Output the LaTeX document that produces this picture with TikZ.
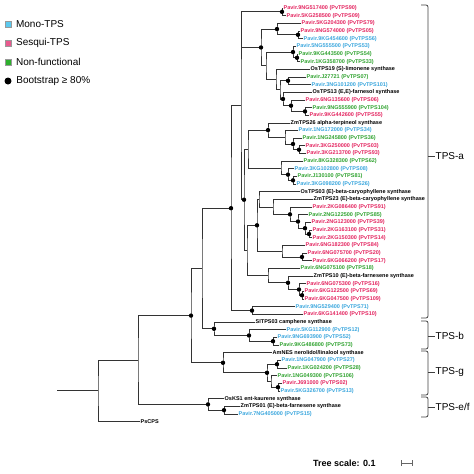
\documentclass[tikz,border=0pt]{standalone}
\usepackage{fontspec}
\setmainfont{Liberation Sans}
\usepackage{xcolor}
\usepackage{tikz}
\usetikzlibrary{positioning}
\definecolor{monoc}{HTML}{3AA6DD}
\definecolor{sesqc}{HTML}{E3245F}
\definecolor{nonfc}{HTML}{2FA22F}
\definecolor{monobox}{HTML}{5BC9EE}
\definecolor{sesqbox}{HTML}{E85A8E}
\definecolor{nonfbox}{HTML}{2DB02D}
\tikzstyle{taxon} = [anchor=west, inner sep=0.5pt, font=\fontsize{5.5}{6}\selectfont\bfseries]
\tikzstyle{mono} = [taxon, text=monoc]
\tikzstyle{sesqui} = [taxon, text=sesqc]
\tikzstyle{nonfunc} = [taxon, text=nonfc]
\tikzstyle{known} = [taxon, text=black]
\tikzstyle{edgeline} = [line width=0.8pt, draw=black!80]
\tikzstyle{bracket} = [line width=0.8pt, draw=black!75, rounded corners=2pt]
\tikzstyle{cladename} = [anchor=west, inner sep=0.5pt, font=\fontsize{10}{12}\selectfont]
\tikzstyle{legbox} = [rectangle, draw=black!40, line width=0.3pt, minimum size=6.5pt, inner sep=0pt]
\tikzstyle{legtext} = [inner sep=0pt, font=\fontsize{10}{12}\selectfont]

\begin{document}
\begin{tikzpicture}[x=1pt, y=-1pt]
\useasboundingbox (0,0) rectangle (474,474);

% legend
\node[legbox, fill=monobox] (kmono) at (8,24) {};
\node[legbox, fill=sesqbox] (ksesq) at (8,43) {};
\node[legbox, fill=nonfbox] (knonf) at (8,62) {};
\node[circle, fill=black, minimum size=7pt, inner sep=0pt] (kboot) at (8,81) {};
\node[legtext, right=4.5pt of kmono] (tmono) {Mono-TPS};
\node[legtext, right=4.5pt of ksesq] (tsesq) {Sesqui-TPS};
\node[legtext, right=4.5pt of knonf] (tnonf) {Non-functional};
\node[legtext, right=4.5pt of kboot] (tboot) {Bootstrap ≥ 80\%};

% leaves
\node[sesqui] (l1) at (283,8.00) {Pavir.9NG517400 (PvTPS90)};
\node[sesqui] (l2) at (286,15.66) {Pavir.5KG258500 (PvTPS09)};
\node[sesqui] (l3) at (301,23.32) {Pavir.5KG204300 (PvTPS79)};
\node[sesqui] (l4) at (300,30.98) {Pavir.9NG574000 (PvTPS05)};
\node[mono] (l5) at (303,38.64) {Pavir.9KG454600 (PvTPS56)};
\node[mono] (l6) at (296,46.30) {Pavir.5NG555500 (PvTPS53)};
\node[nonfunc] (l7) at (298,53.96) {Pavir.9KG443500 (PvTPS54)};
\node[nonfunc] (l8) at (300,61.62) {Pavir.1KG358700 (PvTPS33)};
\node[known] (l9) at (310,69.28) {OsTPS19 (S)-limonene synthase};
\node[nonfunc] (l10) at (306,76.94) {Pavir.J27721 (PvTPS07)};
\node[mono] (l11) at (311,84.60) {Pavir.3NG101200 (PvTPS101)};
\node[known] (l12) at (312,92.26) {OsTPS13 (E,E)-farnesol synthase};
\node[sesqui] (l13) at (305,99.92) {Pavir.6NG135600 (PvTPS06)};
\node[nonfunc] (l14) at (312,107.58) {Pavir.9NG555900 (PvTPS104)};
\node[sesqui] (l15) at (309,115.24) {Pavir.9KG442600 (PvTPS55)};
\node[known] (l16) at (290,122.90) {ZmTPS26 alpha-terpineol synthase};
\node[mono] (l17) at (298,130.56) {Pavir.1NG172000 (PvTPS34)};
\node[nonfunc] (l18) at (302,138.22) {Pavir.1NG245800 (PvTPS36)};
\node[sesqui] (l19) at (305,145.88) {Pavir.3KG250000 (PvTPS03)};
\node[sesqui] (l20) at (306,153.54) {Pavir.3KG213700 (PvTPS93)};
\node[nonfunc] (l21) at (303,161.20) {Pavir.8KG328300 (PvTPS62)};
\node[mono] (l22) at (294,168.86) {Pavir.3KG102800 (PvTPS08)};
\node[nonfunc] (l23) at (297,176.52) {Pavir.J130100 (PvTPS81)};
\node[mono] (l24) at (296,184.18) {Pavir.3KG098200 (PvTPS26)};
\node[known] (l25) at (300,191.84) {OsTPS03 (E)-beta-caryophyllene synthase};
\node[known] (l26) at (313,199.50) {ZmTPS23 (E)-beta-caryophyllene synthase};
\node[sesqui] (l27) at (312,207.16) {Pavir.2KG086400 (PvTPS91)};
\node[nonfunc] (l28) at (308,214.82) {Pavir.2NG122500 (PvTPS85)};
\node[sesqui] (l29) at (311,222.48) {Pavir.2NG123000 (PvTPS39)};
\node[sesqui] (l30) at (312,230.14) {Pavir.2KG163100 (PvTPS31)};
\node[sesqui] (l31) at (312,237.80) {Pavir.2KG150300 (PvTPS14)};
\node[sesqui] (l32) at (305,245.46) {Pavir.6NG182300 (PvTPS84)};
\node[sesqui] (l33) at (307,253.12) {Pavir.6NG075700 (PvTPS20)};
\node[sesqui] (l34) at (312,260.78) {Pavir.6KG066200 (PvTPS17)};
\node[nonfunc] (l35) at (300,268.44) {Pavir.6NG075100 (PvTPS18)};
\node[known] (l36) at (313,276.10) {ZmTPS10 (E)-beta-farnesene synthase};
\node[sesqui] (l37) at (306,283.76) {Pavir.6NG075300 (PvTPS16)};
\node[sesqui] (l38) at (304,291.42) {Pavir.6KG122500 (PvTPS69)};
\node[sesqui] (l39) at (304,299.08) {Pavir.6KG047500 (PvTPS109)};
\node[mono] (l40) at (295,306.74) {Pavir.9NG529400 (PvTPS71)};
\node[sesqui] (l41) at (303,314.40) {Pavir.6KG141400 (PvTPS10)};
\node[known] (l42) at (255,322.06) {SlTPS03 camphene synthase};
\node[mono] (l43) at (286,329.72) {Pavir.5KG112900 (PvTPS12)};
\node[mono] (l44) at (277,337.38) {Pavir.9NG693900 (PvTPS52)};
\node[nonfunc] (l45) at (279,345.04) {Pavir.9KG486800 (PvTPS73)};
\node[known] (l46) at (272,352.70) {AmNES nerolidol/linalool synthase};
\node[mono] (l47) at (281,360.36) {Pavir.1NG047900 (PvTPS27)};
\node[nonfunc] (l48) at (287,368.02) {Pavir.1KG024200 (PvTPS28)};
\node[nonfunc] (l49) at (277,375.68) {Pavir.1NG049300 (PvTPS106)};
\node[sesqui] (l50) at (282,383.34) {Pavir.J691000 (PvTPS02)};
\node[mono] (l51) at (280,391.00) {Pavir.5KG326700 (PvTPS13)};
\node[known] (l52) at (224,398.66) {OsKS1 ent-kaurene synthase};
\node[known] (l53) at (240,406.32) {ZmTPS01 (E)-beta-farnesene synthase};
\node[mono] (l54) at (238,413.98) {Pavir.7NG405000 (PvTPS15)};
\node[known] (l55) at (140,421.64) {PsCPS};

% internal nodes
\coordinate (c12) at (282,11.83);
\coordinate (N4) at (298,34.81);
\coordinate (N3) at (277,29.07);
\coordinate (N7) at (297,57.79);
\coordinate (N6) at (293,52.05);
\coordinate (N10) at (288,80.77);
\coordinate (N14) at (305,111.41);
\coordinate (N13) at (291,105.67);
\coordinate (N12) at (283,98.97);
\coordinate (N11) at (280,89.87);
\coordinate (N9) at (276,79.58);
\coordinate (N5) at (266,65.82);
\coordinate (NA) at (261,47.45);
\coordinate (N19) at (299,149.71);
\coordinate (N18) at (293,143.97);
\coordinate (N17) at (285,137.27);
\coordinate (NZm) at (268,130.09);
\coordinate (N23) at (293,180.35);
\coordinate (N22) at (288,174.61);
\coordinate (N21) at (281,167.91);
\coordinate (F1) at (248,149.00);
\coordinate (Ga6) at (309,233.97);
\coordinate (Ga5) at (305,228.23);
\coordinate (Ga4) at (298,221.53);
\coordinate (Ga3) at (290,214.35);
\coordinate (Ga2) at (273,206.93);
\coordinate (Ga) at (259,199.39);
\coordinate (Gb2) at (302,256.95);
\coordinate (Gb) at (282,251.21);
\coordinate (G) at (257,225.30);
\coordinate (M4) at (302,295.25);
\coordinate (M3) at (299,289.51);
\coordinate (M2) at (288,282.80);
\coordinate (M) at (268,275.62);
\coordinate (L) at (247,250.46);
\coordinate (X) at (244,199.73);
\coordinate (E) at (241,105.78);
\coordinate (D2) at (252,310.57);
\coordinate (D) at (231,208.18);
\coordinate (b2) at (273,341.21);
\coordinate (b1) at (249,335.47);
\coordinate (Tb) at (214,328.77);
\coordinate (C) at (202,268.47);
\coordinate (g2) at (277,364.19);
\coordinate (g4) at (278,387.17);
\coordinate (g3) at (271,381.43);
\coordinate (g1) at (267,372.81);
\coordinate (Gg) at (223,362.76);
\coordinate (B) at (191,315.60);
\coordinate (EF2) at (224,410.15);
\coordinate (EF) at (208,404.40);
\coordinate (A) at (138,360.00);
\coordinate (R) at (98,390.82);
\coordinate (stem) at (57,390.82);

% branches
\draw[edgeline] (l1.west) -| (c12) |- (l2.west);
\draw[edgeline] (l4.west) -| (N4) |- (l5.west);
\draw[edgeline] (l3.west) -| (N3) |- (N4);
\draw[edgeline] (l7.west) -| (N7) |- (l8.west);
\draw[edgeline] (l6.west) -| (N6) |- (N7);
\draw[edgeline] (l10.west) -| (N10) |- (l11.west);
\draw[edgeline] (l14.west) -| (N14) |- (l15.west);
\draw[edgeline] (l13.west) -| (N13) |- (N14);
\draw[edgeline] (l12.west) -| (N12) |- (N13);
\draw[edgeline] (N10) -| (N11) |- (N12);
\draw[edgeline] (l9.west) -| (N9) |- (N11);
\draw[edgeline] (N6) -| (N5) |- (N9);
\draw[edgeline] (N3) -| (NA) |- (N5);
\draw[edgeline] (l19.west) -| (N19) |- (l20.west);
\draw[edgeline] (l18.west) -| (N18) |- (N19);
\draw[edgeline] (l17.west) -| (N17) |- (N18);
\draw[edgeline] (l16.west) -| (NZm) |- (N17);
\draw[edgeline] (l23.west) -| (N23) |- (l24.west);
\draw[edgeline] (l22.west) -| (N22) |- (N23);
\draw[edgeline] (l21.west) -| (N21) |- (N22);
\draw[edgeline] (NZm) -| (F1) |- (N21);
\draw[edgeline] (l30.west) -| (Ga6) |- (l31.west);
\draw[edgeline] (l29.west) -| (Ga5) |- (Ga6);
\draw[edgeline] (l28.west) -| (Ga4) |- (Ga5);
\draw[edgeline] (l27.west) -| (Ga3) |- (Ga4);
\draw[edgeline] (l26.west) -| (Ga2) |- (Ga3);
\draw[edgeline] (l25.west) -| (Ga) |- (Ga2);
\draw[edgeline] (l33.west) -| (Gb2) |- (l34.west);
\draw[edgeline] (l32.west) -| (Gb) |- (Gb2);
\draw[edgeline] (Ga) -| (G) |- (Gb);
\draw[edgeline] (l38.west) -| (M4) |- (l39.west);
\draw[edgeline] (l37.west) -| (M3) |- (M4);
\draw[edgeline] (l36.west) -| (M2) |- (M3);
\draw[edgeline] (l35.west) -| (M) |- (M2);
\draw[edgeline] (G) -| (L) |- (M);
\draw[edgeline] (F1) -| (X) |- (L);
\draw[edgeline] (c12) -| (E) |- (X);
\draw[edgeline] (E |- NA) -- (NA);
\draw[edgeline] (l40.west) -| (D2) |- (l41.west);
\draw[edgeline] (E) -| (D) |- (D2);
\draw[edgeline] (l44.west) -| (b2) |- (l45.west);
\draw[edgeline] (l43.west) -| (b1) |- (b2);
\draw[edgeline] (l42.west) -| (Tb) |- (b1);
\draw[edgeline] (D) -| (C) |- (Tb);
\draw[edgeline] (l47.west) -| (g2) |- (l48.west);
\draw[edgeline] (l50.west) -| (g4) |- (l51.west);
\draw[edgeline] (l49.west) -| (g3) |- (g4);
\draw[edgeline] (g2) -| (g1) |- (g3);
\draw[edgeline] (l46.west) -| (Gg) |- (g1);
\draw[edgeline] (C) -| (B) |- (Gg);
\draw[edgeline] (l53.west) -| (EF2) |- (l54.west);
\draw[edgeline] (l52.west) -| (EF) |- (EF2);
\draw[edgeline] (B) -| (A) |- (EF);
\draw[edgeline] (A) -| (R) |- (l55.west);
\draw[edgeline] (stem) -- (R);

% bootstrap >= 80
\foreach \n in {c12,N3,N4,N6,N7,NA,N10,N12,N13,N14,NZm,N18,N19,N22,N23,X,G,Ga3,Ga4,Ga5,Ga6,Gb2,M2,M3,M4,D,D2,Tb,b1,b2,B,Gg,g1,g2,g4,EF,EF2}
  \fill (\n) circle (2.2);

% subfamily brackets
\draw[bracket] (421,5) -- (428,5) -- (428,318) -- (421,318);
\draw[bracket] (421,321) -- (428,321) -- (428,349) -- (421,349);
\draw[bracket] (421,351) -- (428,351) -- (428,395) -- (421,395);
\draw[bracket] (421,397) -- (428,397) -- (428,417) -- (421,417);
\coordinate (ka) at (428,156);
\coordinate (kb) at (428,336);
\coordinate (kg) at (428,372);
\coordinate (ke) at (428,407);
\node[cladename] (ta) at (435,156) {TPS-a};
\node[cladename] (tb) at (435,336) {TPS-b};
\node[cladename] (tg) at (435,372) {TPS-g};
\node[cladename] (te) at (435,407) {TPS-e/f};
\draw[bracket] (ka) -- (ta.west);
\draw[bracket] (kb) -- (tb.west);
\draw[bracket] (kg) -- (tg.west);
\draw[bracket] (ke) -- (te.west);

% scale
\node[anchor=west, inner sep=0pt, font=\fontsize{9}{11}\selectfont\bfseries] (ts) at (313,463) {Tree scale: 0.1};
\coordinate (sb1) at (401,463);
\coordinate (sb2) at (412,463);
\draw[|-|, line width=0.5pt, black!60] (sb1) -- (sb2);

\end{tikzpicture}
\end{document}
